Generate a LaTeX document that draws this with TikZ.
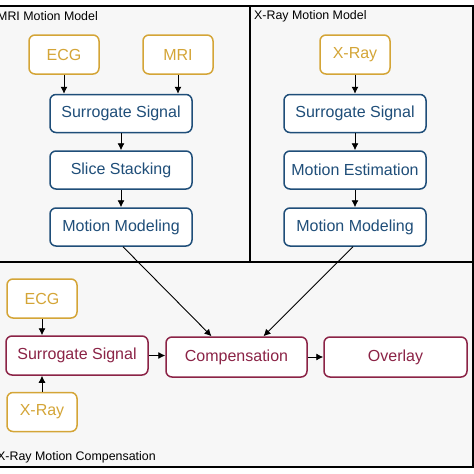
\documentclass[tikz,border=0pt]{standalone}
\usepackage{fontspec}
\setmainfont{Liberation Sans}
\usetikzlibrary{arrows.meta}
\definecolor{gold}{HTML}{D4A537}
\definecolor{navy}{HTML}{1F4E79}
\definecolor{wine}{HTML}{8B2346}
\definecolor{bg}{HTML}{F7F7F7}
\begin{document}
\begin{tikzpicture}[x=1pt,y=-1pt,
  box/.style={draw, rounded corners=6pt, line width=1.5pt, fill=white, inner sep=0pt, font=\fontsize{16}{18}\selectfont},
  inbox/.style={box, draw=gold, text=gold, minimum width=70pt, minimum height=39pt},
  mbox/.style={box, draw=navy, text=navy, minimum width=142pt, minimum height=38pt},
  cbox/.style={box, draw=wine, text=wine, minimum width=142pt, minimum height=39pt},
  arr/.style={-{Latex[length=7pt,width=7pt]}, line width=0.9pt, black},
  title/.style={anchor=west, font=\fontsize{12.4}{14}\selectfont, inner sep=0pt},
  frame/.style={line width=2.2pt, black}]
\useasboundingbox (0,0) rectangle (474,474);
\fill[bg] (-5,6) rectangle (473,467);
\draw[frame] (-5,6) -- (473,6) -- (473,467) -- (-5,467);
\draw[frame] (250,6) -- (250,262);
\draw[frame] (-5,262) -- (473,262);

\node[title] (t1) at (-3,16) {MRI Motion Model};
\node[title] (t2) at (254,16) {X-Ray Motion Model};
\node[title] (t3) at (-3,457) {X-Ray Motion Compensation};

% MRI panel
\node[inbox] (ecg1) at (64,54.5) {ECG};
\node[inbox] (mri1) at (178,54.5) {MRI};
\node[mbox] (ss1) at (121,113.5) {Surrogate Signal};
\node[mbox] (st1) at (121,170) {Slice Stacking};
\node[mbox] (mm1) at (121,227) {Motion Modeling};
\draw[arr] (ecg1.south) -- (ecg1.south |- ss1.north);
\draw[arr] (mri1.south) -- (mri1.south |- ss1.north);
\draw[arr] (ss1) -- (st1);
\draw[arr] (st1) -- (mm1);

% X-Ray panel
\node[inbox] (xr2) at (355,54.5) {X-Ray};
\node[mbox] (ss2) at (355,113.5) {Surrogate Signal};
\node[mbox] (me2) at (355,170) {Motion Estimation};
\node[mbox] (mm2) at (355,227) {Motion Modeling};
\draw[arr] (xr2) -- (ss2);
\draw[arr] (ss2) -- (me2);
\draw[arr] (me2) -- (mm2);

% Compensation panel
\node[inbox] (ecg3) at (42,298.5) {ECG};
\node[cbox] (ss3) at (77,355.5) {Surrogate Signal};
\node[inbox] (xr3) at (42,412) {X-Ray};
\node[cbox, minimum width=141pt, minimum height=40pt] (comp) at (236.5,357) {Compensation};
\node[cbox, minimum width=143pt, minimum height=40pt] (ov) at (395.5,357) {Overlay};
\draw[arr] (ecg3.south) -- (ecg3.south |- ss3.north);
\draw[arr] (xr3.north) -- (xr3.north |- ss3.south);
\draw[arr] (ss3.east) -- (comp.west |- ss3.east);
\draw[arr] (comp) -- (ov);
\draw[arr] ([xshift=2pt]mm1.south) -- ([xshift=-25pt]comp.north);
\draw[arr] ([xshift=-2pt]mm2.south) -- ([xshift=27pt]comp.north);
\end{tikzpicture}
\end{document}
